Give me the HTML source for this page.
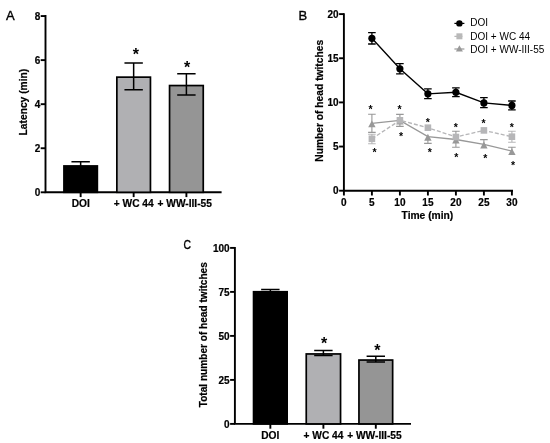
<!DOCTYPE html>
<html><head><meta charset="utf-8"><title>Figure</title>
<style>
html,body{margin:0;padding:0;background:#fff;}
body{width:550px;height:443px;overflow:hidden;}
svg{display:block;}
text{font-family:"Liberation Sans",Arial,sans-serif;fill:#000;}
.t{font-size:10px;font-weight:bold;stroke:#000;stroke-width:0.2;}
.x{font-size:10.2px;font-weight:bold;stroke:#000;stroke-width:0.2;}
.l{font-size:10.25px;font-weight:bold;stroke:#000;stroke-width:0.2;}
.p{font-size:13px;stroke:#000;stroke-width:0.35;}
.lg{font-size:10px;}
.ax{stroke:#000;stroke-width:1.9;fill:none;}
.eb{stroke:#000;stroke-width:1.5;fill:none;}
</style></head><body>
<svg width="550" height="443" viewBox="0 0 550 443">
<rect width="550" height="443" fill="#fff"/>

<g id="panelA">
<text class="p" x="6" y="20">A</text>
<path class="ax" d="M45.5 15.11V192.3H221.6"/>
<path class="ax" d="M40.7 192.3H45.5"/>
<text class="t" x="40.2" y="196" text-anchor="end">0</text>
<path class="ax" d="M40.7 148.24H45.5"/>
<text class="t" x="40.2" y="152" text-anchor="end">2</text>
<path class="ax" d="M40.7 104.18H45.5"/>
<text class="t" x="40.2" y="108" text-anchor="end">4</text>
<path class="ax" d="M40.7 60.12H45.5"/>
<text class="t" x="40.2" y="64" text-anchor="end">6</text>
<path class="ax" d="M40.7 16.06H45.5"/>
<text class="t" x="40.2" y="20" text-anchor="end">8</text>
<text class="l" transform="translate(27.3 102.1) rotate(-90)" text-anchor="middle">Latency (min)</text>
<path class="ax" d="M80.65 192.3V197.1"/>
<rect x="63.95" y="165.95" width="33.4" height="26.35" fill="#000" stroke="#000" stroke-width="1.7"/>
<path class="eb" d="M80.65 161.8V166.1M71.45 161.8H89.85"/>
<path class="ax" d="M133.65 192.3V197.1"/>
<rect x="116.85" y="77.15" width="33.6" height="115.15" fill="#b0b0b3" stroke="#000" stroke-width="1.7"/>
<path class="eb" d="M133.65 62.9V89.8M124.45 62.9H142.85M124.45 89.8H142.85"/>
<path class="ax" d="M186.4 192.3V197.1"/>
<rect x="169.55" y="85.55" width="33.7" height="106.75" fill="#959595" stroke="#000" stroke-width="1.7"/>
<path class="eb" d="M186.4 73.8V95.1M177.2 73.8H195.6M177.2 95.1H195.6"/>
<text class="x" x="80.8" y="207" text-anchor="middle">DOI</text>
<text class="x" x="133.7" y="207" text-anchor="middle">+ WC 44</text>
<text class="x" x="184.7" y="207" text-anchor="middle">+ WW-III-55</text>
<text x="135.9" y="59.9" text-anchor="middle" style="font-size:16px;font-weight:bold">*</text>
<text x="187" y="72.9" text-anchor="middle" style="font-size:16px;font-weight:bold">*</text>
</g>
<g id="panelB">
<text class="p" x="298.6" y="19.5">B</text>
<path class="ax" d="M343.9 13.15V190.7H513"/>
<path class="ax" d="M339.09999999999997 190.7H343.9"/>
<text class="t" x="338.59999999999997" y="194" text-anchor="end">0</text>
<path class="ax" d="M339.09999999999997 146.55H343.9"/>
<text class="t" x="338.59999999999997" y="150" text-anchor="end">5</text>
<path class="ax" d="M339.09999999999997 102.4H343.9"/>
<text class="t" x="338.59999999999997" y="106" text-anchor="end">10</text>
<path class="ax" d="M339.09999999999997 58.25H343.9"/>
<text class="t" x="338.59999999999997" y="62" text-anchor="end">15</text>
<path class="ax" d="M339.09999999999997 14.1H343.9"/>
<text class="t" x="338.59999999999997" y="18" text-anchor="end">20</text>
<path class="ax" d="M343.9 190.7V195.5"/>
<text class="t" x="343.9" y="205.5" text-anchor="middle">0</text>
<path class="ax" d="M371.9 190.7V195.5"/>
<text class="t" x="371.9" y="205.5" text-anchor="middle">5</text>
<path class="ax" d="M399.9 190.7V195.5"/>
<text class="t" x="399.9" y="205.5" text-anchor="middle">10</text>
<path class="ax" d="M427.9 190.7V195.5"/>
<text class="t" x="427.9" y="205.5" text-anchor="middle">15</text>
<path class="ax" d="M455.9 190.7V195.5"/>
<text class="t" x="455.9" y="205.5" text-anchor="middle">20</text>
<path class="ax" d="M483.9 190.7V195.5"/>
<text class="t" x="483.9" y="205.5" text-anchor="middle">25</text>
<path class="ax" d="M511.9 190.7V195.5"/>
<text class="t" x="511.9" y="205.5" text-anchor="middle">30</text>
<text class="l" x="427.4" y="219" text-anchor="middle">Time (min)</text>
<text class="l" transform="translate(323 100.8) rotate(-90)" text-anchor="middle">Number of head twitches</text>
<path d="M371.9 114.3V132.4M368.1 114.3H375.7M368.1 132.4H375.7" stroke="#989898" stroke-width="1.1" fill="none"/>
<path d="M399.9 114.4V126.4M396.1 114.4H403.7M396.1 126.4H403.7" stroke="#989898" stroke-width="1.1" fill="none"/>
<path d="M427.9 136.7V143.4M424.1 143.4H431.7" stroke="#989898" stroke-width="1.1" fill="none"/>
<path d="M455.9 131.3V147.2M452.1 131.3H459.7M452.1 147.2H459.7" stroke="#989898" stroke-width="1.1" fill="none"/>
<path d="M483.9 139.6V144.4M480.1 139.6H487.7" stroke="#989898" stroke-width="1.1" fill="none"/>
<path d="M511.9 147.3V151.1M508.1 147.3H515.7" stroke="#989898" stroke-width="1.1" fill="none"/>
<polyline points="371.9,123.3 399.9,120.4 427.9,136.7 455.9,139.5 483.9,144.4 511.9,151.1" fill="none" stroke="#989898" stroke-width="1.35"/>
<path d="M371.9 120.4L375.6 127.3H368.2Z" fill="#989898"/>
<path d="M399.9 117.5L403.6 124.4H396.2Z" fill="#989898"/>
<path d="M427.9 133.8L431.6 140.7H424.2Z" fill="#989898"/>
<path d="M455.9 136.6L459.6 143.5H452.2Z" fill="#989898"/>
<path d="M483.9 141.5L487.6 148.4H480.2Z" fill="#989898"/>
<path d="M511.9 148.2L515.6 155.1H508.2Z" fill="#989898"/>
<path d="M371.9 134.3V143.7M368.1 134.3H375.7M368.1 143.7H375.7" stroke="#b6b6b8" stroke-width="1.1" fill="none"/>
<path d="M511.9 131.3V142.2M508.1 131.3H515.7M508.1 142.2H515.7" stroke="#b6b6b8" stroke-width="1.1" fill="none"/>
<polyline points="371.9,138.8 399.9,120.3 427.9,127.7 455.9,137 483.9,130.4 511.9,136.7" fill="none" stroke="#b6b6b8" stroke-width="1.35" stroke-dasharray="4 2"/>
<rect x="368.6" y="135.5" width="6.6" height="6.6" fill="#b6b6b8"/>
<rect x="396.6" y="117" width="6.6" height="6.6" fill="#b6b6b8"/>
<rect x="424.6" y="124.4" width="6.6" height="6.6" fill="#b6b6b8"/>
<rect x="452.6" y="133.7" width="6.6" height="6.6" fill="#b6b6b8"/>
<rect x="480.6" y="127.1" width="6.6" height="6.6" fill="#b6b6b8"/>
<rect x="508.6" y="133.4" width="6.6" height="6.6" fill="#b6b6b8"/>
<path d="M371.9 32.6V44M368.1 32.6H375.7M368.1 44H375.7" stroke="#000" stroke-width="1.3" fill="none"/>
<path d="M399.9 63.7V73.9M396.1 63.7H403.7M396.1 73.9H403.7" stroke="#000" stroke-width="1.3" fill="none"/>
<path d="M427.9 88.9V98.7M424.1 88.9H431.7M424.1 98.7H431.7" stroke="#000" stroke-width="1.3" fill="none"/>
<path d="M455.9 87.9V96.7M452.1 87.9H459.7M452.1 96.7H459.7" stroke="#000" stroke-width="1.3" fill="none"/>
<path d="M483.9 97.7V107.7M480.1 97.7H487.7M480.1 107.7H487.7" stroke="#000" stroke-width="1.3" fill="none"/>
<path d="M511.9 101V109.8M508.1 101H515.7M508.1 109.8H515.7" stroke="#000" stroke-width="1.3" fill="none"/>
<polyline points="371.9,38.3 399.9,68.8 427.9,93.8 455.9,92.3 483.9,102.9 511.9,105.4" fill="none" stroke="#000" stroke-width="1.35"/>
<circle cx="371.9" cy="38.3" r="3.6" fill="#000"/>
<circle cx="399.9" cy="68.8" r="3.6" fill="#000"/>
<circle cx="427.9" cy="93.8" r="3.6" fill="#000"/>
<circle cx="455.9" cy="92.3" r="3.6" fill="#000"/>
<circle cx="483.9" cy="102.9" r="3.6" fill="#000"/>
<circle cx="511.9" cy="105.4" r="3.6" fill="#000"/>
<text x="370.6" y="113.11" text-anchor="middle" style="font-size:10.5px;font-weight:bold">*</text>
<text x="374.5" y="155.51" text-anchor="middle" style="font-size:10.5px;font-weight:bold">*</text>
<text x="399.6" y="113.11" text-anchor="middle" style="font-size:10.5px;font-weight:bold">*</text>
<text x="401" y="140.11" text-anchor="middle" style="font-size:10.5px;font-weight:bold">*</text>
<text x="427.8" y="125.61" text-anchor="middle" style="font-size:10.5px;font-weight:bold">*</text>
<text x="429.8" y="155.71" text-anchor="middle" style="font-size:10.5px;font-weight:bold">*</text>
<text x="455.8" y="130.81" text-anchor="middle" style="font-size:10.5px;font-weight:bold">*</text>
<text x="456.4" y="160.61" text-anchor="middle" style="font-size:10.5px;font-weight:bold">*</text>
<text x="483.5" y="127.31" text-anchor="middle" style="font-size:10.5px;font-weight:bold">*</text>
<text x="485.2" y="162.21" text-anchor="middle" style="font-size:10.5px;font-weight:bold">*</text>
<text x="511.8" y="131.01" text-anchor="middle" style="font-size:10.5px;font-weight:bold">*</text>
<text x="513.1" y="168.51" text-anchor="middle" style="font-size:10.5px;font-weight:bold">*</text>
<path d="M454.4 23.4H464.4" stroke="#000" stroke-width="1.2"/>
<circle cx="459.4" cy="23.4" r="3.2" fill="#000"/>
<text class="lg" x="470.3" y="26">DOI</text>
<path d="M454.4 36.3H464.4" stroke="#b9b9b9" stroke-width="1.2" stroke-dasharray="3 2"/>
<rect x="456.4" y="33.3" width="6" height="6" fill="#b9b9b9"/>
<text class="lg" x="470.3" y="40">DOI + WC 44</text>
<path d="M454.4 49H464.4" stroke="#999" stroke-width="1.2"/>
<path d="M459.4 45.2L462.9 51.6H455.9Z" fill="#999"/>
<text class="lg" x="470.3" y="53">DOI + WW-III-55</text>
</g>
<g id="panelC">
<text class="p" transform="translate(183.6 249) scale(0.8 1)">C</text>
<path class="ax" d="M234.9 246.95V423.9H411"/>
<path class="ax" d="M230.1 423.9H234.9"/>
<text class="t" x="229.6" y="428" text-anchor="end">0</text>
<path class="ax" d="M230.1 379.9H234.9"/>
<text class="t" x="229.6" y="384" text-anchor="end">25</text>
<path class="ax" d="M230.1 335.9H234.9"/>
<text class="t" x="229.6" y="340" text-anchor="end">50</text>
<path class="ax" d="M230.1 291.9H234.9"/>
<text class="t" x="229.6" y="296" text-anchor="end">75</text>
<path class="ax" d="M230.1 247.9H234.9"/>
<text class="t" x="229.6" y="252" text-anchor="end">100</text>
<text class="l" style="font-size:10.1px" transform="translate(207.2 334.7) rotate(-90)" text-anchor="middle">Total number of head twitches</text>
<path class="ax" d="M270.35 423.9V428.7"/>
<rect x="253.55" y="291.75" width="33.6" height="132.15" fill="#000" stroke="#000" stroke-width="1.7"/>
<path class="eb" d="M270.35 289.4V291.9M261.15 289.4H279.55"/>
<path class="ax" d="M323.4 423.9V428.7"/>
<rect x="306.25" y="353.95" width="34.3" height="69.95" fill="#b0b0b3" stroke="#000" stroke-width="1.7"/>
<path class="eb" d="M323.4 350.6V355.6M314.2 350.6H332.6M314.2 355.6H332.6"/>
<path class="ax" d="M375.8 423.9V428.7"/>
<rect x="358.95" y="360.05" width="33.7" height="63.85" fill="#959595" stroke="#000" stroke-width="1.7"/>
<path class="eb" d="M375.8 356.2V362.1M366.6 356.2H385M366.6 362.1H385"/>
<text class="x" x="270.3" y="439" text-anchor="middle">DOI</text>
<text class="x" x="323.5" y="439" text-anchor="middle">+ WC 44</text>
<text class="x" x="374.4" y="439" text-anchor="middle">+ WW-III-55</text>
<text x="324" y="349.4" text-anchor="middle" style="font-size:16px;font-weight:bold">*</text>
<text x="377.4" y="355.8" text-anchor="middle" style="font-size:16px;font-weight:bold">*</text>
</g>
</svg></body></html>
